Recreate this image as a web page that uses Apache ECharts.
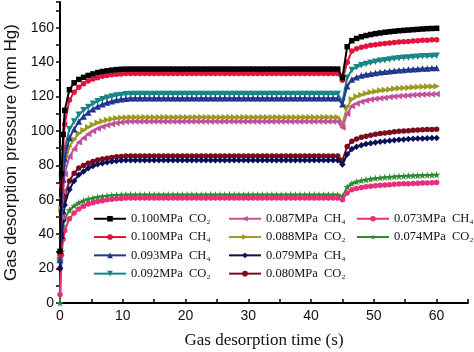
<!DOCTYPE html>
<html><head><meta charset="utf-8">
<script src="https://cdn.jsdelivr.net/npm/echarts@6/dist/echarts.min.js"></script>
<style>html,body{margin:0;padding:0;background:#fff}#c{width:474px;height:352px}</style>
</head><body><div id="c"></div>
<script>
const times = [0,0.25,0.5,0.75,1.5,2.25,3,3.75,4.5,5.25,6,6.75,7.5,8.25,9,9.75,10.5,
11.25,12,12.75,13.5,14.25,15,15.75,16.5,17.25,
18,18.75,19.5,20.25,21,21.75,22.5,23.25,24,
24.75,25.5,26.25,27,27.75,28.5,29.25,30,30.75,
31.5,32.25,33,33.75,34.5,35.25,36,36.75,37.5,
38.25,39,39.75,40.5,41.25,42,42.75,43.5,44.25,
45,45.75,46.5,47.25,48,48.75,49.5,50.25,51,51.75,52.5,53.25,54,54.75,55.5,56.25,57,57.75,58.5,59.25,60];

const co2_100 = [30,75,98,112,124,128,130,131.2,132.3,133.2,134,134.6,135,135.4,135.7,135.9,136,
136,136,136,136,136,136,136,136,136,
136,136,136,136,136,136,136,136,136,
136,136,136,136,136,136,136,136,136,
136,136,136,136,136,136,136,136,136,
136,136,136,136,136,136,136,136,136,
131,149,152.5,153.8,154.8,155.5,156.1,156.6,157,157.4,157.7,158,158.3,158.5,158.7,158.9,159.1,159.3,159.5,159.6,159.7];
const ch4_100 = [28,68,90,104,118,122.5,125.5,127.5,129,130.2,131,131.8,132.3,132.7,133,133.2,133.5,
133.5,133.5,133.5,133.5,133.5,133.5,133.5,133.5,133.5,
133.5,133.5,133.5,133.5,133.5,133.5,133.5,133.5,133.5,
133.5,133.5,133.5,133.5,133.5,133.5,133.5,133.5,133.5,
133.5,133.5,133.5,133.5,133.5,133.5,133.5,133.5,133.5,
133.5,133.5,133.5,133.5,133.5,133.5,133.5,133.5,133.5,
129.5,140,146.5,147.8,148.7,149.3,149.8,150.2,150.6,150.9,151.2,151.5,151.7,151.9,152.1,152.3,152.5,152.7,152.8,153,153.1];
const ch4_093 = [25,55,72,84,96,101,105.5,108.5,110.8,112.7,114.3,115.5,116.5,117.3,118,118.5,118.8,
119,119,119,119,119,119,119,119,119,
119,119,119,119,119,119,119,119,119,
119,119,119,119,119,119,119,119,119,
119,119,119,119,119,119,119,119,119,
119,119,119,119,119,119,119,119,119,
115.5,126,130,131.3,132.2,132.8,133.3,133.7,134.1,134.4,134.7,135,135.3,135.5,135.7,135.9,136.1,136.3,136.4,136.6,136.7];
const co2_092 = [25,60,78,90,101,105.5,109.5,112,114,115.8,117.3,118.4,119.3,120,120.6,121,121.3,
121.5,121.5,121.5,121.5,121.5,121.5,121.5,121.5,121.5,
121.5,121.5,121.5,121.5,121.5,121.5,121.5,121.5,121.5,
121.5,121.5,121.5,121.5,121.5,121.5,121.5,121.5,121.5,
121.5,121.5,121.5,121.5,121.5,121.5,121.5,121.5,121.5,
121.5,121.5,121.5,121.5,121.5,121.5,121.5,121.5,121.5,
117,131,135.5,137,138.2,139,139.7,140.3,140.8,141.2,141.6,142,142.3,142.6,142.8,143,143.2,143.4,143.5,143.6,143.7];
const ch4_087 = [25,50,65,75,85,89.5,93.5,96,98.2,100,101.4,102.5,103.4,104.1,104.7,105.1,105.4,
105.5,105.5,105.5,105.5,105.5,105.5,105.5,105.5,105.5,
105.5,105.5,105.5,105.5,105.5,105.5,105.5,105.5,105.5,
105.5,105.5,105.5,105.5,105.5,105.5,105.5,105.5,105.5,
105.5,105.5,105.5,105.5,105.5,105.5,105.5,105.5,105.5,
105.5,105.5,105.5,105.5,105.5,105.5,105.5,105.5,105.5,
102,110,114.5,116,117,117.7,118.3,118.7,119.1,119.4,119.7,120,120.3,120.5,120.7,120.9,121.1,121.2,121.3,121.4,121.5];
const co2_088 = [25,55,70,80,91,95,98.5,100.5,102.2,103.6,104.8,105.7,106.4,107,107.4,107.7,107.9,
108,108,108,108,108,108,108,108,108,
108,108,108,108,108,108,108,108,108,
108,108,108,108,108,108,108,108,108,
108,108,108,108,108,108,108,108,108,
108,108,108,108,108,108,108,108,108,
104.5,114,118.5,120,121,121.8,122.5,123,123.5,123.9,124.2,124.5,124.8,125,125.2,125.4,125.6,125.7,125.8,125.9,126];
const ch4_079 = [20,38,48,57,66,71,74.5,76.5,78.3,79.6,80.6,81.3,81.9,82.3,82.6,82.8,83,
83,83,83,83,83,83,83,83,83,
83,83,83,83,83,83,83,83,83,
83,83,83,83,83,83,83,83,83,
83,83,83,83,83,83,83,83,83,
83,83,83,83,83,83,83,83,83,
80.5,86.5,89.5,90.8,91.7,92.4,92.9,93.3,93.7,94,94.3,94.6,94.9,95.1,95.3,95.5,95.6,95.7,95.8,95.9,96];
const co2_080 = [20,40,52,62,71,75.5,78.5,80,81.3,82.3,83.1,83.7,84.2,84.6,85,85.2,85.4,
85.5,85.5,85.5,85.5,85.5,85.5,85.5,85.5,85.5,
85.5,85.5,85.5,85.5,85.5,85.5,85.5,85.5,85.5,
85.5,85.5,85.5,85.5,85.5,85.5,85.5,85.5,85.5,
85.5,85.5,85.5,85.5,85.5,85.5,85.5,85.5,85.5,
85.5,85.5,85.5,85.5,85.5,85.5,85.5,85.5,85.5,
83,91,94,95.3,96.3,97,97.6,98.1,98.5,98.9,99.2,99.5,99.8,100,100.2,100.4,100.6,100.7,100.8,100.9,101];
const ch4_073 = [5,28,37,42,49,52.3,54.7,56.3,57.5,58.3,59,59.5,60,60.3,60.6,60.8,61,
61,61,61,61,61,61,61,61,61,
61,61,61,61,61,61,61,61,61,
61,61,61,61,61,61,61,61,61,
61,61,61,61,61,61,61,61,61,
61,61,61,61,61,61,61,61,61,
60,64,65.8,66.6,67.2,67.6,67.9,68.2,68.4,68.6,68.8,69,69.2,69.3,69.4,69.5,69.6,69.7,69.8,69.9,70];
const co2_074 = [0,30,45,49,54,56.5,58.3,59.5,60.4,61,61.6,62,62.3,62.6,62.8,62.9,63,
63,63,63,63,63,63,63,63,63,
63,63,63,63,63,63,63,63,63,
63,63,63,63,63,63,63,63,63,
63,63,63,63,63,63,63,63,63,
63,63,63,63,63,63,63,63,63,
62,67.5,69.5,70.5,71.2,71.7,72.1,72.5,72.8,73.1,73.3,73.5,73.7,73.9,74,74.1,74.2,74.3,74.4,74.5,74.6];

const names = ['0.100MPa  CO₂','0.100MPa  CH₄','0.093MPa  CH₄','0.092MPa  CO₂','0.087MPa  CH₄','0.088MPa  CO₂','0.079MPa  CH₄','0.080MPa  CO₂','0.073MPa  CH₄','0.074MPa  CO₂'];
const values = [co2_100, ch4_100, ch4_093, co2_092, ch4_087, co2_088, ch4_079, co2_080, ch4_073, co2_074];
const xTicks = [0,10,20,30,40,50,60];
const yTicks = [0,20,40,60,80,100,120,140,160];

const colors = ['#000000','#e3123d','#1f3590','#188585','#c4509c','#9a9a22','#0c0e58','#7a0c1e','#e6307c','#2a8a2e'];
const STAR = 'path://M50,0 L61,35 L98,35 L68,57 L79,91 L50,70 L21,91 L32,57 L2,35 L39,35 Z';
const symbols = ['rect','circle','triangle','triangle','triangle','triangle','diamond','circle','circle',STAR];
const rotates = [0,0,0,180,90,-90,0,0,0,0];
const sizes = [5.5,5.5,6.5,6.5,6.5,6.5,6.5,5.5,5.5,7.5];

const chart = echarts.init(document.getElementById('c'), null, {renderer:'canvas'});
const series = names.map((n,i)=>({
  name:n, type:'line', data: times.map((t,j)=>[t, values[i][j]]),
  symbol: symbols[i], symbolRotate: rotates[i], symbolSize: sizes[i], showAllSymbol:true,
  lineStyle:{width:2, color:colors[i]}, itemStyle:{color:colors[i]}, animation:false, z: 10-i
}));
const legendBase = {orient:'vertical', itemWidth:32, itemHeight:7, itemGap:4.8, padding:0,
  textStyle:{fontFamily:'Liberation Serif', fontSize:12.5, color:'#111', lineHeight:13.5}};
const option = {
  animation:false,
  grid:{left:60, right:6, top:2, bottom:49, containLabel:false, outerBoundsMode:'none'},
  xAxis:{type:'value', min:0, max:65, interval:5,
    name:'Gas desorption time (s)', nameLocation:'middle', nameGap:29,
    nameTextStyle:{fontFamily:'Liberation Serif', fontSize:17, color:'#111'},
    axisLine:{lineStyle:{color:'#000', width:2}},
    axisTick:{inside:true, length:4, lineStyle:{color:'#000', width:1.5}},
    axisLabel:{fontFamily:'Liberation Sans', fontSize:14, color:'#111', margin:6,
      formatter:v=> xTicks.indexOf(v)>=0 ? String(v) : ''},
    splitLine:{show:false}},
  yAxis:{type:'value', min:0, max:175, interval:10,
    name:'Gas desorption pressure (mm Hg)', nameLocation:'middle', nameGap:34,
    nameTextStyle:{fontFamily:'Liberation Sans', fontSize:17, color:'#111'},
    axisLine:{show:true, lineStyle:{color:'#000', width:2}},
    axisTick:{show:true, inside:false, length:4, lineStyle:{color:'#000', width:1.5}},
    axisLabel:{fontFamily:'Liberation Sans', fontSize:14, color:'#111', margin:6,
      formatter:v=> yTicks.indexOf(v)>=0 ? String(v) : ''},
    splitLine:{show:false}},
  legend:[
    Object.assign({}, legendBase, {left:93, top:212, data:names.slice(0,4)}),
    Object.assign({}, legendBase, {left:228, top:212, data:names.slice(4,8)}),
    Object.assign({}, legendBase, {left:356, top:212, data:names.slice(8,10)})
  ],
  series
};
chart.setOption(option);
</script></body></html>
